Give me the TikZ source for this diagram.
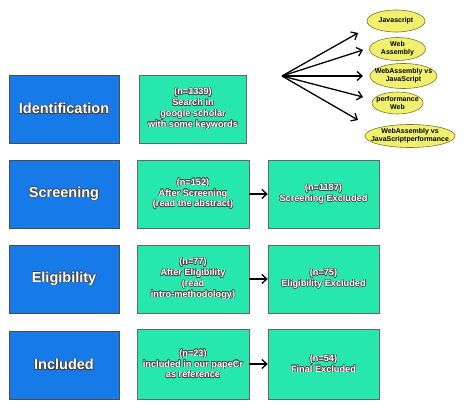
\documentclass[tikz,border=0pt]{standalone}
\usepackage{fontspec}
\setmainfont{Liberation Sans}
\usepackage{contour}
\contournumber{16}
\contourlength{0.5pt}
\usetikzlibrary{arrows.meta,shapes.geometric}
\definecolor{stageblue}{RGB}{22,122,232}
\definecolor{boxgreen}{RGB}{38,232,172}
\definecolor{ellyellow}{RGB}{240,240,110}
\definecolor{ellborder}{RGB}{120,120,40}
\newcommand{\ol}[1]{\contour{black!75}{#1}}
\newcommand{\olg}[1]{\contour[16]{black!70}{#1}}
\tikzset{
  stage/.style={draw=black!70, fill=stageblue, minimum width=110pt, minimum height=68pt, inner sep=0pt, text=white, font=\bfseries\fontsize{14.5}{17}\selectfont},
  gbox/.style={draw=black!60, fill=boxgreen, minimum width=110pt, minimum height=68pt, inner sep=0pt, text=white, align=center, font=\bfseries\fontsize{9.2}{10.8}\selectfont},
  kwell/.style={draw=ellborder, fill=ellyellow, line width=0.6pt},
  kw/.style={inner sep=0pt, align=center, font=\bfseries\fontsize{7}{8.3}\selectfont},
  arr/.style={-{Straight Barb[length=5pt,width=9pt]}, line width=1.3pt, black},
}
\newcommand{\kwnode}[6]{\draw[kwell] (#2,#3) ellipse ({#4} and {#5});
  \node[kw] (#1) at (#2,#3) {#6};}
\begin{document}
\begin{tikzpicture}[x=1pt,y=-1pt]
\useasboundingbox (0,0) rectangle (474,409);
% stages
\node[stage] (s1) at (64,109) {\ol{Identification}};
\node[stage] (s2) at (64,194) {\ol{Screening}};
\node[stage] (s3) at (64,279) {\ol{Eligibility}};
\node[stage] (s4) at (64,365) {\ol{Included}};
% green boxes
\node[gbox, minimum width=107pt] (g1) at (193,109) {\olg{(n=1339)}\\\olg{Search in}\\\olg{google scholar}\\\olg{with some keywords}};
\node[gbox, minimum width=112pt] (g2) at (193,194) {\olg{(n=152)}\\\olg{After Screening}\\\olg{(read the abstract)}};
\node[gbox, minimum width=111pt] (x2) at (323.5,194) {\olg{(n=1187)}\\\olg{Screening Excluded}};
\node[gbox, minimum width=112pt] (g3) at (193,279) {\olg{(n=77)}\\\olg{After Eligibility}\\\olg{(read}\\\olg{intro-methodology)}};
\node[gbox, minimum width=111pt] (x3) at (323.5,279) {\olg{(n=75)}\\\olg{Eligibility Excluded}};
\node[gbox, minimum width=112pt, minimum height=70pt] (g4) at (193,364) {\olg{(n=23)}\\\olg{included in our papeCr}\\\olg{as reference}};
\node[gbox, minimum width=111pt, minimum height=70pt] (x4) at (323.5,364) {\olg{(n=54)}\\\olg{Final Excluded}};
\draw[arr] (g2) -- (x2);
\draw[arr] (g3) -- (x3);
\draw[arr] (g4) -- (x4);
% keywords
\kwnode{k1}{396}{21}{29}{11}{Javascript}
\kwnode{k2}{397.5}{49}{28}{11.5}{Web\\Assembly}
\kwnode{k3}{403.5}{76}{33.5}{12.5}{WebAssembly vs\\JavaScript}
\kwnode{k4}{397.5}{103}{25.5}{11}{performance\\Web}
\kwnode{k5}{410}{136}{45}{11.5}{WebAssembly vs\\JavaScriptperformance}
\coordinate (o) at (282,76);
\coordinate (e1) at (358,33);
\coordinate (e2) at (363,50);
\coordinate (e3) at (363,76);
\coordinate (e4) at (363,97);
\coordinate (e5) at (358,120);
\foreach \i in {1,...,5} {\draw[arr] (o) -- (e\i);}
\end{tikzpicture}
\end{document}
